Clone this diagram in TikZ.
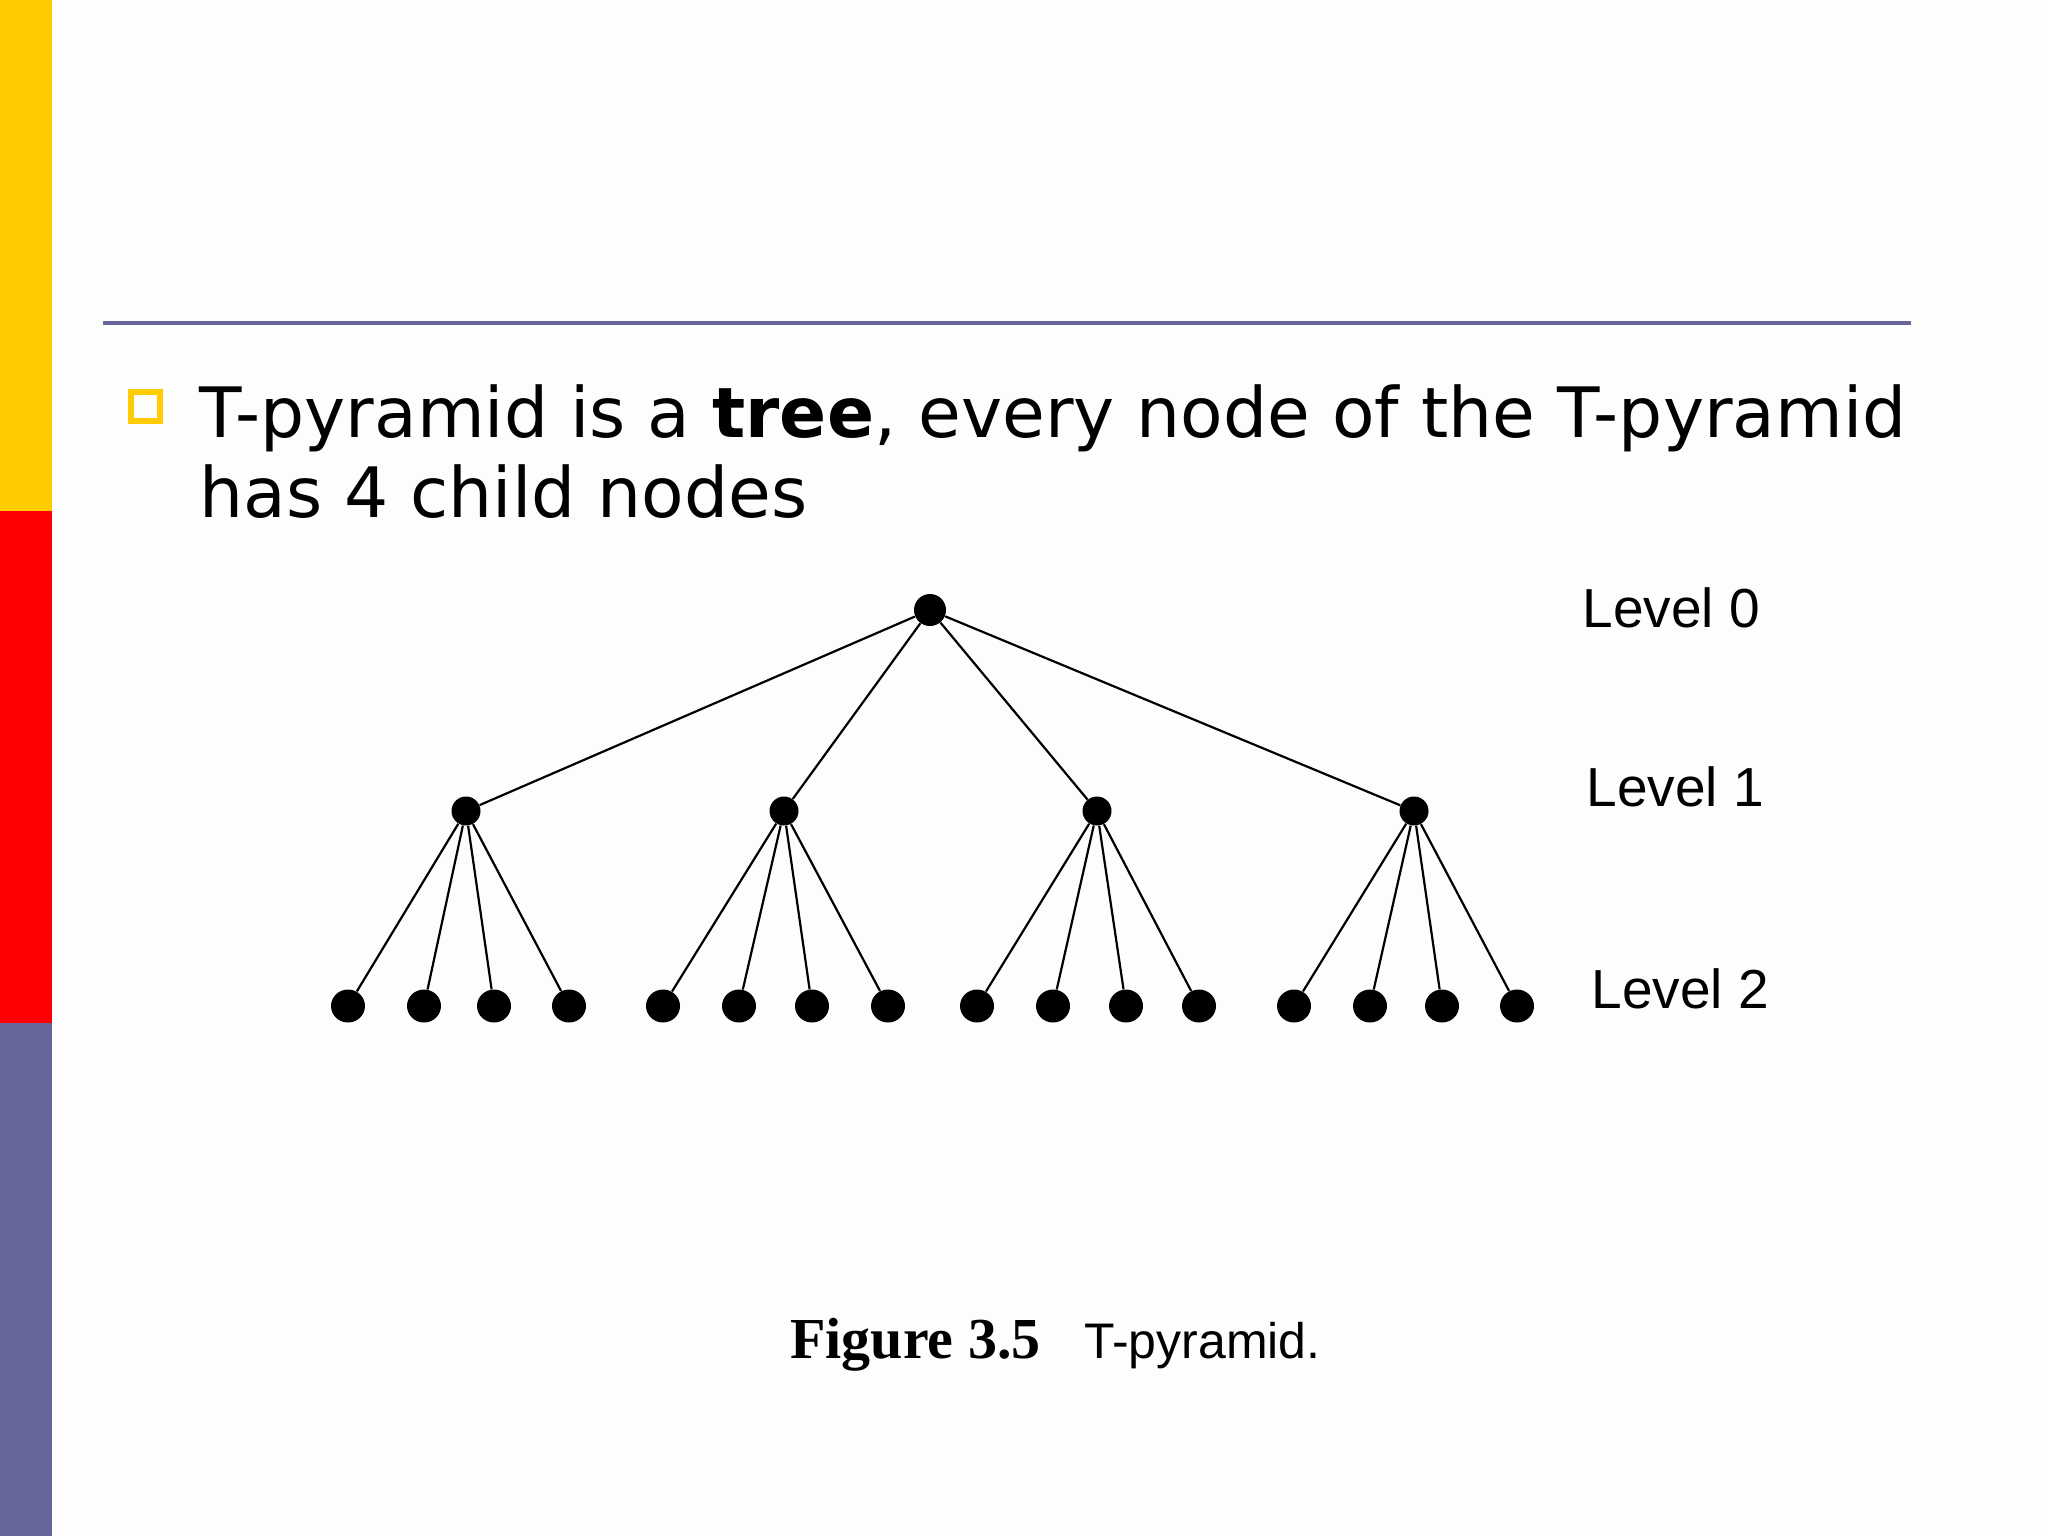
\documentclass[tikz,border=0pt]{standalone}
\usepackage{fontspec}
\usetikzlibrary{shapes.geometric}
\setmainfont{DejaVu Sans}
\newfontfamily\lvlfont{Liberation Sans}
\newfontfamily\capserif{Liberation Serif}
\definecolor{sideyellow}{HTML}{FFCC00}
\definecolor{sidered}{HTML}{FF0000}
\definecolor{sideblue}{HTML}{666699}
\definecolor{slidebg}{HTML}{FDFEFC}
\begin{document}
\begin{tikzpicture}[x=0.5pt,y=-0.5pt,
  rootnode/.style={circle,fill=black,inner sep=0pt,minimum size=16pt},
  midnode/.style={circle,fill=black,inner sep=0pt,minimum size=14.5pt},
  leafnode/.style={ellipse,fill=black,inner sep=0pt,minimum width=17pt,minimum height=16.5pt},
  edge/.style={line width=1.1pt,black},
  lvl/.style={font=\lvlfont\fontsize{27.5pt}{30pt}\selectfont,anchor=base west,inner sep=0pt},
  bodytxt/.style={font=\fontsize{34.75pt}{40pt}\selectfont,anchor=base west,inner sep=0pt}
]
\useasboundingbox (0,0) rectangle (2048,1536);
\fill[slidebg] (0,0) rectangle (2048,1536);
% side bar
\fill[sideyellow] (0,0) rectangle (52,511);
\fill[sidered] (0,511) rectangle (52,1023);
\fill[sideblue] (0,1023) rectangle (52,1536);
% rule
\draw[sideblue,line width=2pt] (103,323) -- (1911,323);
% bullet
\draw[sideyellow,line width=3pt] (131,392) rectangle (160,421);
% text
\node[bodytxt] (line1) at (199,437) {T-pyramid is a \textbf{tree}, every node of the T-pyramid};
\node[bodytxt] (line2) at (199,517) {has 4 child nodes};
% tree
\node[rootnode] (r) at (930,610) {};
\foreach \i/\x in {1/466,2/784,3/1097,4/1414}{
  \node[midnode] (m\i) at (\x,811) {};
  \draw[edge] (r) -- (m\i);
}
\foreach \i/\x/\p in {1/348/1,2/424/1,3/494/1,4/569/1,
                      5/663/2,6/739/2,7/812/2,8/888/2,
                      9/977/3,10/1053/3,11/1126/3,12/1199/3,
                      13/1294/4,14/1370/4,15/1442/4,16/1517/4}{
  \node[leafnode] (l\i) at (\x,1006) {};
  \draw[edge] (m\p) -- (l\i);
}
% level labels
\node[lvl] (lv0) at (1582,627) {Level 0};
\node[lvl] (lv1) at (1586,806) {Level 1};
\node[lvl] (lv2) at (1591,1008) {Level 2};
% caption
\node[anchor=base west,inner sep=0pt,font=\capserif\bfseries\fontsize{29pt}{30pt}\selectfont] (capA) at (790,1358) {Figure 3.5};
\node[anchor=base west,inner sep=0pt,font=\lvlfont\fontsize{25pt}{28pt}\selectfont] (capB) at (1084,1358) {T-pyramid.};
\end{tikzpicture}
\end{document}
